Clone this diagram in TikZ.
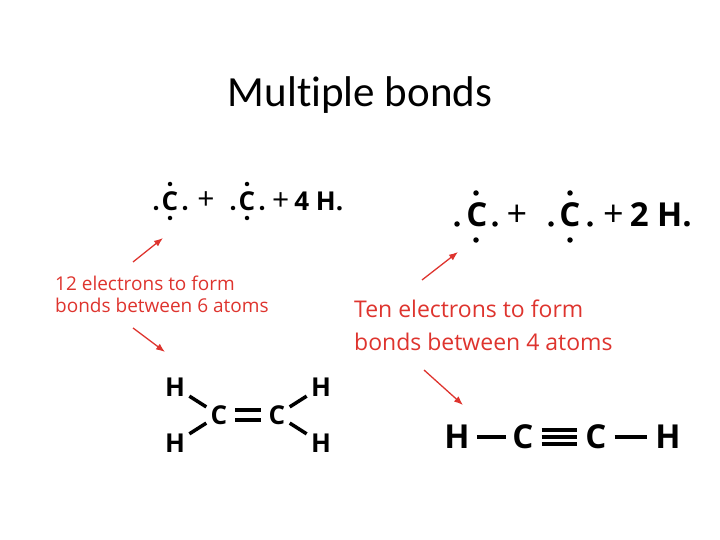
\documentclass[tikz,border=0pt]{standalone}
\usepackage{fontspec}
\usetikzlibrary{arrows.meta}
\setmainfont{Open Sans}
\newfontfamily\titlefont[Ligatures=NoCommon]{Carlito}
\definecolor{redt}{RGB}{222,52,46}
\begin{document}
\begin{tikzpicture}[x=1pt,y=-1pt,
  lbl/.style={text=redt,font=\fontsize{19}{23}\selectfont,align=left,anchor=west,inner sep=0},
  lblb/.style={text=redt,font=\fontsize{23}{33}\selectfont,align=left,anchor=west,inner sep=0},
  arr/.style={draw=redt,line width=1.3pt,-{Latex[length=9pt,width=7pt]}},
  atS/.style={font=\bfseries\fontsize{26}{28}\selectfont,inner sep=0},
  atL/.style={font=\bfseries\fontsize{33}{35}\selectfont,inner sep=0},
  bond/.style={line width=3.5pt},
  dot/.style={fill=black,circle,inner sep=0,minimum size=4.5pt}]
\useasboundingbox (0,0) rectangle (720,540);
\node[font=\titlefont\fontsize{43}{45}\selectfont] (title) at (360,95) {Multiple bonds};
% left top
\node[atS] (lc1) at (170,201) {C};
\node[dot] (d1) at (170,184) {}; \node[dot] (d2) at (170,218) {};
\node[dot] (d3) at (156,208) {}; \node[dot] (d4) at (185,208) {};
\node[font=\fontsize{30}{30}\selectfont,inner sep=0] (lp1) at (206,201) {+};
\node[atS] (lc2) at (247,201) {C};
\node[dot] (d5) at (247,184) {}; \node[dot] (d6) at (247,218) {};
\node[dot] (d7) at (233,208) {}; \node[dot] (d8) at (262,208) {};
\node[atS,anchor=west] (lp2) at (272,201) {\mdseries\fontsize{30}{30}\selectfont+\,\bfseries\fontsize{26}{28}\selectfont 4 H.};
% right top
\node[atL] (rc1) at (477,215) {C};
\node[dot,minimum size=5.5pt] (e1) at (476,193) {}; \node[dot,minimum size=5.5pt] (e2) at (476,240) {};
\node[dot,minimum size=5.5pt] (e3) at (457,224) {}; \node[dot,minimum size=5.5pt] (e4) at (495,224) {};
\node[font=\fontsize{36}{36}\selectfont,inner sep=0] (rp1) at (517,216) {+};
\node[atL] (rc2) at (570,215) {C};
\node[dot,minimum size=5.5pt] (e5) at (570,193) {}; \node[dot,minimum size=5.5pt] (e6) at (570,240) {};
\node[dot,minimum size=5.5pt] (e7) at (551,224) {}; \node[dot,minimum size=5.5pt] (e8) at (590,224) {};
\node[atL,anchor=west] (rp2) at (603,215) {\mdseries\fontsize{36}{36}\selectfont+\,\bfseries\fontsize{33}{35}\selectfont 2 H.};
% labels
\node[lbl] (l1) at (55,283) {12 electrons to form};
\node[lbl] (l2) at (55,305) {bonds between 6 atoms};
\node[lblb] (r1) at (354,309) {Ten electrons to form};
\node[lblb] (r2) at (354,342) {bonds between 4 atoms};
\coordinate (a1) at (133,262); \coordinate (a1e) at (163,238);
\coordinate (a2) at (133,328); \coordinate (a2e) at (165,352);
\coordinate (b1) at (422,280); \coordinate (b1e) at (458,252);
\coordinate (b2) at (424,370); \coordinate (b2e) at (463,405);
\draw[arr] (a1) -- (a1e); \draw[arr] (a2) -- (a2e);
\draw[arr] (b1) -- (b1e); \draw[arr] (b2) -- (b2e);
% ethylene
\node[atS] (h1) at (175,387) {H}; \node[atS] (h2) at (175,443) {H};
\node[atS] (c1) at (219,415) {C}; \node[atS] (c2) at (277,415) {C};
\node[atS] (h3) at (321,387) {H}; \node[atS] (h4) at (321,443) {H};
\draw[bond,shorten <=5pt,shorten >=5pt] (h1) -- (c1); \draw[bond,shorten <=5pt,shorten >=5pt] (h2) -- (c1);
\draw[bond,shorten <=5pt,shorten >=5pt] (c2) -- (h3); \draw[bond,shorten <=5pt,shorten >=5pt] (c2) -- (h4);
\draw[bond] ([yshift=-5pt,xshift=8pt]c1.east) -- ([yshift=-5pt,xshift=-8pt]c2.west);
\draw[bond] ([yshift=5pt,xshift=8pt]c1.east) -- ([yshift=5pt,xshift=-8pt]c2.west);
% acetylene
\node[atL] (H1) at (457,437) {H}; \node[atL] (C1) at (523,437) {C};
\node[atL] (C2) at (596,437) {C}; \node[atL] (H2) at (668,437) {H};
\draw[bond,line width=4pt] ([xshift=7pt]H1.east) -- ([xshift=-6pt]C1.west);
\draw[bond,line width=4pt] ([xshift=8pt]C2.east) -- ([xshift=-8pt]H2.west);
\foreach \dy in {-7,0,7}
  \draw[line width=3.6pt] ([xshift=8pt,yshift=\dy pt]C1.east) -- ([xshift=-8pt,yshift=\dy pt]C2.west);
\end{tikzpicture}
\end{document}
